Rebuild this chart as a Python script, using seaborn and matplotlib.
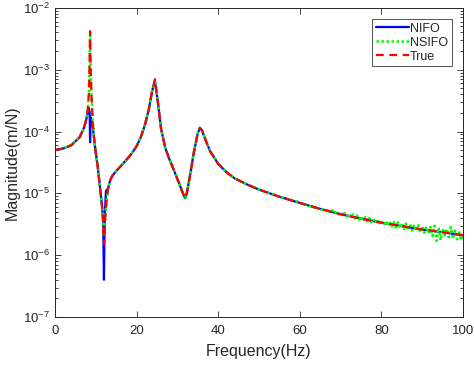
import numpy as np
import pandas as pd
import matplotlib
matplotlib.use("Agg")
import matplotlib.pyplot as plt
import seaborn as sns
from matplotlib.ticker import LogLocator, NullFormatter, FixedLocator

# ---------------- data ----------------
freq = [0, 2, 4, 6, 7, 7.5, 8, 8.3, 8.5, 8.6, 8.7, 8.9, 9.2, 9.6, 10, 10.5, 11,
        11.5, 11.8, 12.0, 12.2, 12.5, 13, 13.5, 14, 15, 16, 17, 18, 19, 20, 21,
        22, 23, 23.8, 24.5, 25.2, 26, 27, 28, 29, 30, 31, 31.5, 31.9, 32.3, 33,
        34, 35, 35.5, 36, 37, 38, 40, 42, 44, 47, 50, 55, 60, 65, 70, 75, 80,
        85, 90, 95, 100]

true_mag = [5.0e-5, 5.3e-5, 6.0e-5, 8.0e-5, 1.1e-4, 1.4e-4, 2.2e-4, 4.0e-4,
            1.5e-3, 4.2e-3, 1.5e-3, 4.5e-4, 1.6e-4, 7.5e-5, 4.5e-5, 2.6e-5,
            1.3e-5, 6.5e-6, 3.5e-6, 1.5e-6, 3.0e-6, 6.0e-6, 1.2e-5, 1.6e-5,
            1.9e-5, 2.3e-5, 2.7e-5, 3.2e-5, 3.8e-5, 4.6e-5, 5.8e-5, 8.0e-5,
            1.25e-4, 2.3e-4, 4.5e-4, 7.0e-4, 3.0e-4, 1.1e-4, 5.5e-5, 3.6e-5,
            2.5e-5, 1.7e-5, 1.15e-5, 9.5e-6, 8.5e-6, 1.0e-5, 1.8e-5, 4.5e-5,
            9.5e-5, 1.15e-4, 1.05e-4, 7.0e-5, 4.8e-5, 3.0e-5, 2.2e-5, 1.75e-5,
            1.4e-5, 1.15e-5, 8.8e-6, 7.0e-6, 5.6e-6, 4.6e-6, 3.9e-6, 3.35e-6,
            2.95e-6, 2.6e-6, 2.35e-6, 2.1e-6]

nifo_mag = [5.0e-5, 5.3e-5, 6.0e-5, 8.0e-5, 1.1e-4, 1.4e-4, 2.0e-4, 2.4e-4,
            2.0e-4, 6.7e-5, 1.7e-4, 1.6e-4, 1.3e-4, 7.5e-5, 4.5e-5, 2.6e-5,
            1.3e-5, 6.5e-6, 3.5e-6, 4.0e-7, 4.5e-6, 1.1e-5, 1.2e-5, 1.6e-5,
            1.9e-5, 2.3e-5, 2.7e-5, 3.2e-5, 3.8e-5, 4.6e-5, 5.8e-5, 8.0e-5,
            1.25e-4, 2.3e-4, 4.5e-4, 6.6e-4, 3.0e-4, 1.1e-4, 5.5e-5, 3.6e-5,
            2.5e-5, 1.7e-5, 1.15e-5, 9.5e-6, 8.3e-6, 1.0e-5, 1.8e-5, 4.5e-5,
            9.5e-5, 1.12e-4, 1.05e-4, 7.0e-5, 4.8e-5, 3.0e-5, 2.2e-5, 1.75e-5,
            1.4e-5, 1.15e-5, 8.8e-6, 7.0e-6, 5.6e-6, 4.6e-6, 3.9e-6, 3.35e-6,
            2.95e-6, 2.6e-6, 2.35e-6, 2.1e-6]

nsifo_freq_lo = [0, 2, 4, 6, 7, 7.5, 8, 8.3, 8.5, 8.6, 8.7, 8.9, 9.2, 9.6, 10,
                 10.5, 11, 11.5, 11.8, 12.0, 12.2, 12.5, 13, 13.5, 14, 15, 16,
                 17, 18, 19, 20, 21, 22, 23, 23.8, 24.5, 25.2, 26, 27, 28, 29,
                 30, 31, 31.5, 31.9, 32.3, 33, 34, 35, 35.5, 36, 37, 38, 40, 42,
                 44, 47, 50, 55]
nsifo_mag_lo = [5.0e-5, 5.3e-5, 6.0e-5, 8.0e-5, 1.1e-4, 1.4e-4, 2.2e-4, 4.0e-4,
                1.4e-3, 3.6e-3, 1.4e-3, 4.5e-4, 1.6e-4, 7.5e-5, 4.5e-5, 2.6e-5,
                1.3e-5, 6.5e-6, 3.5e-6, 2.0e-6, 3.2e-6, 6.0e-6, 1.2e-5, 1.6e-5,
                1.9e-5, 2.3e-5, 2.7e-5, 3.2e-5, 3.8e-5, 4.6e-5, 5.8e-5, 8.0e-5,
                1.25e-4, 2.3e-4, 4.5e-4, 6.8e-4, 3.0e-4, 1.1e-4, 5.5e-5, 3.6e-5,
                2.5e-5, 1.7e-5, 1.15e-5, 9.5e-6, 8.5e-6, 1.0e-5, 1.8e-5, 4.5e-5,
                9.5e-5, 1.15e-4, 1.05e-4, 7.0e-5, 4.8e-5, 3.0e-5, 2.2e-5,
                1.75e-5, 1.4e-5, 1.15e-5, 8.8e-6]

nsifo_freq_hi = [60, 60.5, 61, 61.5, 62, 62.5, 63, 63.5, 64, 64.5, 65, 65.5, 66,
                 66.5, 67, 67.5, 68, 68.5, 69, 69.5, 70, 70.5, 71, 71.5, 72,
                 72.5, 73, 73.5, 74, 74.5, 75, 75.5, 76, 76.5, 77, 77.5, 78,
                 78.5, 79, 79.5, 80, 80.5, 81, 81.5, 82, 82.5, 83, 83.5, 84,
                 84.5, 85, 85.5, 86, 86.5, 87, 87.5, 88, 88.5, 89, 89.5, 90,
                 90.5, 91, 91.5, 92, 92.5, 93, 93.5, 94, 94.5, 95, 95.5, 96,
                 96.5, 97, 97.5, 98, 98.5, 99, 99.5, 100]
# micro-units (x 1e-6 m/N)
nsifo_mag_hi_u = [7.2, 6.75, 6.85, 6.45, 6.55, 6.15, 6.3, 5.85, 6.05, 5.6, 5.8,
                  5.4, 5.65, 5.15, 5.45, 4.95, 5.3, 4.7, 5.1, 4.55, 4.95, 4.35,
                  4.8, 4.2, 4.65, 4.05, 4.55, 3.9, 4.4, 3.75, 4.2, 3.65, 4.1,
                  3.5, 4.0, 3.4, 3.9, 3.3, 3.8, 3.15, 3.65, 3.05, 3.6, 3.0,
                  3.55, 2.9, 3.45, 2.8, 3.4, 2.7, 3.3, 2.65, 3.25, 2.55, 3.2,
                  2.5, 3.1, 2.45, 3.05, 2.35, 2.95, 2.3, 2.9, 2.25, 2.85, 2.05,
                  3.0, 1.7, 2.8, 1.75, 2.7, 2.1, 2.65, 1.95, 2.85, 1.85, 2.5,
                  1.8, 2.45, 1.75, 2.2]

x_ticks = [0, 20, 40, 60, 80, 100]
series_names = ["NIFO", "NSIFO", "True"]

# ---------------- build tables ----------------
df_nifo = pd.DataFrame({"f": freq, "m": nifo_mag})
df_nsifo = pd.DataFrame({"f": nsifo_freq_lo + nsifo_freq_hi,
                         "m": nsifo_mag_lo + [v * 1e-6 for v in nsifo_mag_hi_u]})
df_true = pd.DataFrame({"f": freq, "m": true_mag})

# ---------------- style ----------------
sns.set_theme(style="ticks")
plt.rcParams["font.family"] = ["Liberation Sans", "DejaVu Sans"]
plt.rcParams["mathtext.default"] = "regular"
txt = "#262626"

fig = plt.figure(figsize=(4.74, 3.65), dpi=100)
ax = fig.add_axes([0.116, 0.1315, 0.861, 0.847])

sns.lineplot(data=df_nifo, x="f", y="m", ax=ax, color=(0, 0, 1), lw=1.6,
             estimator=None, sort=False, label=series_names[0])
sns.lineplot(data=df_nsifo, x="f", y="m", ax=ax, color=(0, 1, 0), lw=1.8,
             estimator=None, sort=False, label=series_names[1],
             linestyle=(0, (1, 1)))
sns.lineplot(data=df_true, x="f", y="m", ax=ax, color=(1, 0, 0), lw=1.6,
             estimator=None, sort=False, label=series_names[2],
             linestyle=(0, (3.5, 2.5)))

ax.set_yscale("log")
ax.set_xlim(0, 100)
ax.set_ylim(1e-7, 1e-2)
ax.xaxis.set_major_locator(FixedLocator(x_ticks))
ax.yaxis.set_major_locator(LogLocator(base=10, numticks=10))
ax.yaxis.set_minor_locator(LogLocator(base=10, subs=np.arange(2, 10), numticks=20))
ax.yaxis.set_minor_formatter(NullFormatter())

ax.tick_params(which="both", direction="in", top=True, right=True,
               colors=txt, labelsize=9.5, width=0.6)
ax.tick_params(which="major", length=4)
ax.tick_params(which="minor", length=2)
ax.tick_params(axis="x", which="major", pad=6)
for s in ax.spines.values():
    s.set_color(txt)
    s.set_linewidth(0.7)

ax.set_xlabel("Frequency(Hz)", fontsize=11.5, color=txt, labelpad=5)
ax.set_ylabel("Magnitude(m/N)", fontsize=11.5, color=txt, labelpad=2)

leg = ax.legend(loc="upper right", fontsize=9, frameon=True, fancybox=False,
                handlelength=2.6, handletextpad=0.1, borderpad=0.3,
                labelspacing=0.15, borderaxespad=0.9)
leg.get_frame().set_edgecolor("#262626")
leg.get_frame().set_linewidth(0.7)

fig.savefig("out.png", dpi=100)
